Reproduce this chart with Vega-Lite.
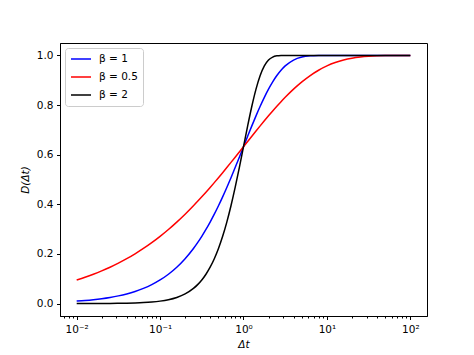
{
  "$schema": "https://vega.github.io/schema/vega-lite/v6.json",
  "width": 367,
  "height": 273,
  "autosize": "none",
  "padding": {"left": 60, "top": 43, "right": 47, "bottom": 39},
  "config": {
    "font": "DejaVu Sans",
    "view": {"stroke": "black", "strokeWidth": 1},
    "axis": {
      "grid": false,
      "labelFont": "DejaVu Sans",
      "titleFont": "DejaVu Sans",
      "labelFontSize": 10.5,
      "titleFontSize": 10.5,
      "titleFontWeight": "normal",
      "labelColor": "black",
      "titleColor": "black",
      "tickColor": "black",
      "domainColor": "black",
      "tickSize": 3.5,
      "labelPadding": 3.5
    },
    "legend": {
      "orient": "top-left",
      "offset": 5,
      "padding": 5,
      "strokeColor": "#cccccc",
      "fillColor": "white",
      "cornerRadius": 3,
      "symbolType": "stroke",
      "symbolSize": 400,
      "symbolStrokeWidth": 1.5,
      "labelFont": "DejaVu Sans",
      "labelFontSize": 10.5,
      "labelColor": "black",
      "labelOffset": 7,
      "rowPadding": 6,
      "clipHeight": 12
    }
  },
  "data": {
    "values": [
      {"t": 0.01, "b1": 0.00995, "b05": 0.09516, "b2": 0.0001},
      {"t": 0.012589, "b1": 0.01251, "b05": 0.10614, "b2": 0.000158},
      {"t": 0.015849, "b1": 0.015724, "b05": 0.11829, "b2": 0.000251},
      {"t": 0.019953, "b1": 0.019755, "b05": 0.13173, "b2": 0.000398},
      {"t": 0.025119, "b1": 0.024806, "b05": 0.14657, "b2": 0.000631},
      {"t": 0.031623, "b1": 0.031128, "b05": 0.16291, "b2": 0.001},
      {"t": 0.039811, "b1": 0.039029, "b05": 0.18088, "b2": 0.001584},
      {"t": 0.050119, "b1": 0.048884, "b05": 0.20058, "b2": 0.002509},
      {"t": 0.063096, "b1": 0.061147, "b05": 0.22212, "b2": 0.003973},
      {"t": 0.079433, "b1": 0.076358, "b05": 0.2456, "b2": 0.00629},
      {"t": 0.1, "b1": 0.09516, "b05": 0.27111, "b2": 0.00995},
      {"t": 0.125893, "b1": 0.11829, "b05": 0.2987, "b2": 0.015724},
      {"t": 0.158489, "b1": 0.14657, "b05": 0.32841, "b2": 0.024806},
      {"t": 0.199526, "b1": 0.18088, "b05": 0.36025, "b2": 0.039029},
      {"t": 0.251189, "b1": 0.22212, "b05": 0.39419, "b2": 0.061147},
      {"t": 0.281838, "b1": 0.2456, "b05": 0.41191, "b2": 0.076358},
      {"t": 0.316228, "b1": 0.27111, "b05": 0.43013, "b2": 0.09516},
      {"t": 0.354813, "b1": 0.2987, "b05": 0.4488, "b2": 0.11829},
      {"t": 0.398107, "b1": 0.32841, "b05": 0.46792, "b2": 0.14657},
      {"t": 0.446684, "b1": 0.36025, "b05": 0.48744, "b2": 0.18088},
      {"t": 0.501187, "b1": 0.39419, "b05": 0.50734, "b2": 0.22212},
      {"t": 0.562341, "b1": 0.43013, "b05": 0.52758, "b2": 0.27111},
      {"t": 0.630957, "b1": 0.46792, "b05": 0.54811, "b2": 0.32841},
      {"t": 0.707946, "b1": 0.50734, "b05": 0.56889, "b2": 0.39419},
      {"t": 0.794328, "b1": 0.54811, "b05": 0.58986, "b2": 0.46792},
      {"t": 0.891251, "b1": 0.58986, "b05": 0.61096, "b2": 0.54811},
      {"t": 1.0, "b1": 0.63212, "b05": 0.63212, "b2": 0.63212},
      {"t": 1.122018, "b1": 0.67438, "b05": 0.65329, "b2": 0.71604},
      {"t": 1.258925, "b1": 0.71604, "b05": 0.67438, "b2": 0.79503},
      {"t": 1.412538, "b1": 0.75648, "b05": 0.69532, "b2": 0.86402},
      {"t": 1.584893, "b1": 0.79503, "b05": 0.71604, "b2": 0.91889},
      {"t": 1.778279, "b1": 0.83107, "b05": 0.73645, "b2": 0.95766},
      {"t": 1.995262, "b1": 0.86402, "b05": 0.75648, "b2": 0.98133},
      {"t": 2.238721, "b1": 0.8934, "b05": 0.77603, "b2": 0.99334},
      {"t": 2.511886, "b1": 0.91889, "b05": 0.79503, "b2": 0.99818},
      {"t": 2.818383, "b1": 0.9403, "b05": 0.8134, "b2": 0.99964},
      {"t": 3.162278, "b1": 0.95766, "b05": 0.83107, "b2": 0.99995},
      {"t": 3.981072, "b1": 0.98133, "b05": 0.86402, "b2": 1.0},
      {"t": 5.011872, "b1": 0.99334, "b05": 0.8934, "b2": 1.0},
      {"t": 6.309573, "b1": 0.99818, "b05": 0.91889, "b2": 1.0},
      {"t": 7.943282, "b1": 0.99964, "b05": 0.9403, "b2": 1.0},
      {"t": 10.0, "b1": 0.99995, "b05": 0.95766, "b2": 1.0},
      {"t": 12.589254, "b1": 1.0, "b05": 0.97122, "b2": 1.0},
      {"t": 15.848932, "b1": 1.0, "b05": 0.98133, "b2": 1.0},
      {"t": 19.952623, "b1": 1.0, "b05": 0.98852, "b2": 1.0},
      {"t": 25.118864, "b1": 1.0, "b05": 0.99334, "b2": 1.0},
      {"t": 31.622777, "b1": 1.0, "b05": 0.99639, "b2": 1.0},
      {"t": 39.810717, "b1": 1.0, "b05": 0.99818, "b2": 1.0},
      {"t": 50.118723, "b1": 1.0, "b05": 0.99916, "b2": 1.0},
      {"t": 63.095734, "b1": 1.0, "b05": 0.99964, "b2": 1.0},
      {"t": 79.432823, "b1": 1.0, "b05": 0.99987, "b2": 1.0},
      {"t": 100.0, "b1": 1.0, "b05": 0.99995, "b2": 1.0}
    ]
  },
  "transform": [{"fold": ["b1", "b05", "b2"], "as": ["beta", "D"]}],
  "layer": [
    {
      "mark": {"type": "line", "strokeWidth": 1.5, "interpolate": "monotone"},
      "encoding": {
        "x": {
          "field": "t",
          "type": "quantitative",
          "scale": {"type": "log", "domain": [0.00631, 158.5], "nice": false},
          "axis": {
            "values": [0.01, 0.1, 1, 10, 100],
            "labelExpr": "datum.value < 0.05 ? '10⁻²' : datum.value < 0.5 ? '10⁻¹' : datum.value < 5 ? '10⁰' : datum.value < 50 ? '10¹' : '10²'",
            "title": "Δt",
            "titleFontStyle": "italic",
            "labelPadding": 5,
            "titlePadding": 4,
            "orient": "bottom"
          }
        },
        "y": {
          "field": "D",
          "type": "quantitative",
          "scale": {"domain": [-0.05, 1.05], "nice": false, "zero": false},
          "axis": {
            "values": [0, 0.2, 0.4, 0.6, 0.8, 1.0],
            "format": ".1f",
            "title": "D(Δt)",
            "titleFontStyle": "italic",
            "titlePadding": 6
          }
        },
        "color": {
          "field": "beta",
          "type": "nominal",
          "scale": {"domain": ["b1", "b05", "b2"], "range": ["#0000ff", "#ff0000", "#000000"]},
          "legend": {
            "title": null,
            "labelExpr": "datum.value == 'b1' ? 'β = 1' : datum.value == 'b05' ? 'β = 0.5' : 'β = 2'"
          }
        }
      }
    },
    {
      "mark": {"type": "point", "opacity": 0},
      "encoding": {
        "x": {
          "field": "t",
          "type": "quantitative",
          "axis": {
            "orient": "bottom",
            "values": [0.007, 0.008, 0.009, 0.02, 0.03, 0.04, 0.05, 0.06, 0.07, 0.08, 0.09, 0.2, 0.3, 0.4, 0.5, 0.6, 0.7, 0.8, 0.9, 2, 3, 4, 5, 6, 7, 8, 9, 20, 30, 40, 50, 60, 70, 80, 90],
            "labels": false,
            "tickSize": 2,
            "domain": false,
            "title": null
          }
        }
      }
    }
  ],
  "resolve": {"axis": {"x": "independent"}}
}
